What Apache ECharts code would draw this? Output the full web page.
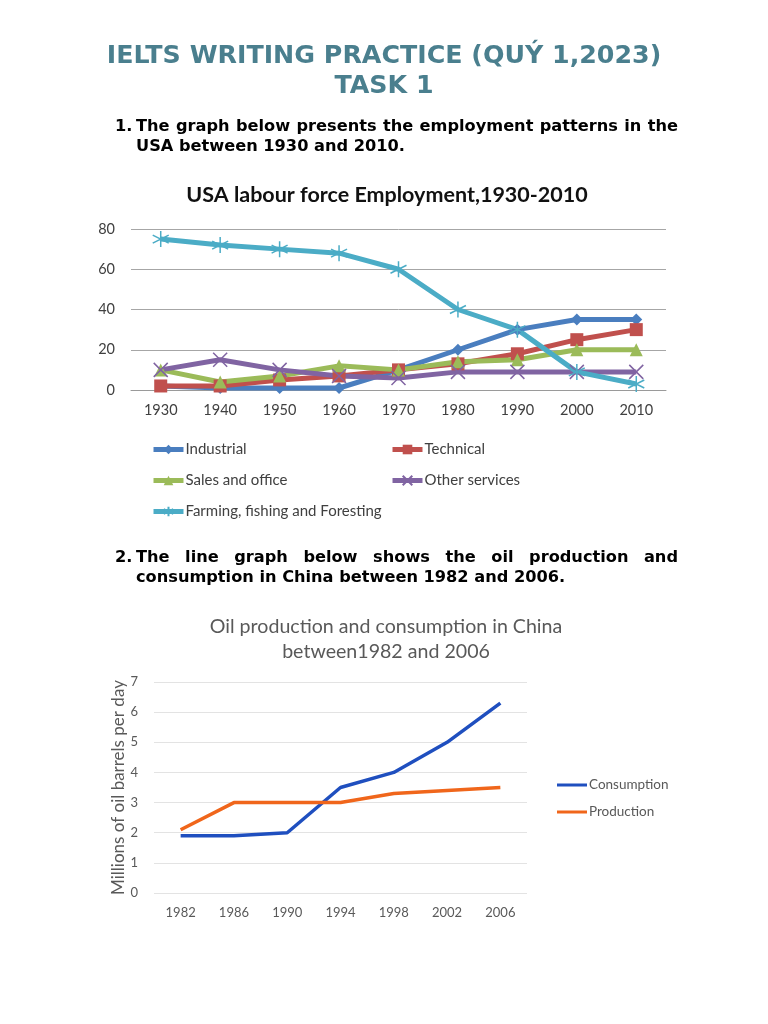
<!DOCTYPE html>
<html>
<head>
<meta charset="utf-8">
<script src="https://cdn.jsdelivr.net/npm/echarts@6/dist/echarts.min.js"></script>
<style>
  html, body { margin: 0; padding: 0; background: #fff; }
  #page { position: relative; width: 768px; height: 1024px; overflow: hidden; }
  #chart { position: absolute; left: 0; top: 0; width: 768px; height: 1024px; }
  .head { position: absolute; left: 0; width: 768px; text-align: center;
    font-family: "DejaVu Sans"; font-weight: bold; color: #4a7f8e; font-size: 25.3px; line-height: 30px; }
  .q { position: absolute; left: 115px; width: 563px; font-family: "DejaVu Sans"; font-weight: bold;
    font-size: 16.2px; line-height: 20px; color: #000; }
  .q .n { position: absolute; left: 0; top: 0; }
  .q .t { margin-left: 21px; text-align: justify; }
</style>
</head>
<body>
<div id="page">
  <div id="chart"></div>
  <div class="head" style="top:40px">IELTS WRITING PRACTICE (QUÝ 1,2023)<br>TASK 1</div>
  <div class="q" style="top:116px"><span class="n">1.</span><div class="t">The graph below presents the employment patterns in the USA between 1930 and 2010.</div></div>
  <div class="q" style="top:547px"><span class="n">2.</span><div class="t">The line graph below shows the oil production and consumption in China between 1982 and 2006.</div></div>
</div>
<script>
// chart 1 - USA labour force
var years = ['1930', '1940', '1950', '1960', '1970', '1980', '1990', '2000', '2010'];
var industrial = [2, 1, 1, 1, 10, 20, 30, 35, 35];
var technical = [2, 2, 5, 7, 10, 13, 18, 25, 30];
var salesOffice = [10, 4, 7, 12, 10, 14, 15, 20, 20];
var otherServices = [10, 15, 10, 7, 6, 9, 9, 9, 9];
var farming = [75, 72, 70, 68, 60, 40, 30, 9, 3];

// chart 2 - China oil
var oilYears = ['1982', '1986', '1990', '1994', '1998', '2002', '2006'];
var consumption = [1.9, 1.9, 2.0, 3.5, 4.0, 5.0, 6.3];
var production = [2.1, 3.0, 3.0, 3.0, 3.3, 3.4, 3.5];

var asterisk = 'path://M5,0L5,10M0.7,2.5L9.3,7.5M9.3,2.5L0.7,7.5';
var cross = 'path://M0,0L10,10M10,0L0,10';

var myChart = echarts.init(document.getElementById('chart'));

function bigLine(name, data, color, symbol, size, strokeSym) {
  return {
    name: name,
    type: 'line',
    xAxisIndex: 0,
    yAxisIndex: 0,
    data: data,
    symbol: symbol,
    symbolSize: size,
    showAllSymbol: true,
    lineStyle: { color: color, width: 5 },
    itemStyle: strokeSym ? { color: color, borderColor: color, borderWidth: 1.5 } : { color: color },
    z: 2,
  };
}

function legendItem(name, left, top) {
  return {
    data: [name],
    left: left,
    top: top,
    itemWidth: 30,
    itemHeight: 12,
    itemGap: 2,
    lineStyle: { width: 5 },
    textStyle: { fontFamily: 'Lato', fontSize: 15, color: '#404040', padding: [0, 0, 0, -3] },
  };
}

var option = {
  animation: false,
  title: [{
    text: 'USA labour force Employment,1930-2010',
    left: 382,
    textAlign: 'center',
    top: 179,
    textStyle: { fontFamily: 'Lato', fontWeight: 'bold', fontSize: 21.5, color: '#111' },
  }, {
    text: 'Oil production and consumption in China\nbetween1982 and 2006',
    left: 381,
    textAlign: 'center',
    top: 609,
    textStyle: { fontFamily: 'Lato', fontWeight: 'normal', fontSize: 19.6, lineHeight: 25, color: '#595959' },
  }],
  legend: [
    legendItem('Industrial', 146, 437),
    legendItem('Technical', 385, 437),
    legendItem('Sales and office', 146, 468),
    legendItem('Other services', 385, 468),
    legendItem('Farming, fishing and Foresting', 146, 499),
    {
      data: ['Consumption', 'Production'],
      orient: 'vertical',
      left: 552,
      top: 773,
      itemGap: 13,
      itemWidth: 30,
      itemHeight: 3,
      icon: 'rect',
      textStyle: { fontFamily: 'Lato', fontSize: 13.5, color: '#595959', padding: [0, 0, 0, -3] },
    },
  ],
  grid: [
    { left: 131, top: 229, width: 535, height: 161 },
    { left: 154, top: 682, width: 373, height: 211 },
  ],
  xAxis: [{
    gridIndex: 0,
    type: 'category',
    data: years,
    axisLine: { lineStyle: { color: '#9a9a9a' } },
    axisTick: { show: false },
    axisLabel: { margin: 13, fontFamily: 'Lato', fontSize: 14.5, color: '#404040' },
  }, {
    gridIndex: 1,
    type: 'category',
    data: oilYears,
    axisLine: { show: false },
    axisTick: { show: false },
    axisLabel: { margin: 13, fontFamily: 'Lato', fontSize: 13, color: '#595959' },
  }],
  yAxis: [{
    gridIndex: 0,
    type: 'value',
    min: 0,
    max: 80,
    interval: 20,
    axisLabel: { margin: 16, fontFamily: 'Lato', fontSize: 14.5, color: '#404040' },
    splitLine: { lineStyle: { color: '#a6a6a6' } },
  }, {
    gridIndex: 1,
    type: 'value',
    min: 0,
    max: 7,
    interval: 1,
    name: 'Millions of oil barrels per day',
    nameLocation: 'middle',
    nameRotate: 90,
    nameGap: 25,
    nameTextStyle: { fontFamily: 'Lato', fontSize: 17, color: '#595959' },
    axisLabel: { margin: 16, fontFamily: 'Lato', fontSize: 13, color: '#595959' },
    splitLine: { lineStyle: { color: '#e3e3e3' } },
  }],
  series: [
    bigLine('Industrial', industrial, '#4a7ebf', 'diamond', 12),
    bigLine('Technical', technical, '#c0504d', 'rect', 13),
    bigLine('Sales and office', salesOffice, '#9bbb59', 'triangle', 13),
    bigLine('Other services', otherServices, '#8064a2', cross, 14, true),
    bigLine('Farming, fishing and Foresting', farming, '#4bacc6', asterisk, 16, true),
    {
      name: 'Consumption',
      type: 'line',
      xAxisIndex: 1,
      yAxisIndex: 1,
      data: consumption,
      symbol: 'none',
      lineStyle: { color: '#1f4fbf', width: 3.5 },
      itemStyle: { color: '#1f4fbf' },
    },
    {
      name: 'Production',
      type: 'line',
      xAxisIndex: 1,
      yAxisIndex: 1,
      data: production,
      symbol: 'none',
      lineStyle: { color: '#f0661b', width: 3.5 },
      itemStyle: { color: '#f0661b' },
    },
  ],
};

myChart.setOption(option);
</script>
</body>
</html>
